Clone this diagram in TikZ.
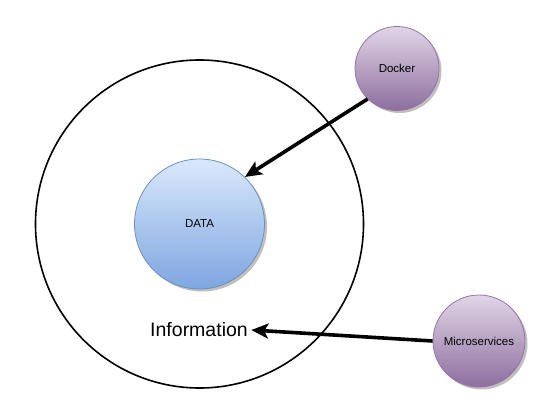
\documentclass[tikz,border=0pt]{standalone}
\usepackage{fontspec}
\setmainfont{Liberation Sans}
\usetikzlibrary{arrows.meta,shadows,positioning}
\definecolor{purpletop}{HTML}{E1D5E7}
\definecolor{purplebottom}{HTML}{8D6E9E}
\definecolor{purpleline}{HTML}{9673A6}
\definecolor{bluetop}{HTML}{DAE8FC}
\definecolor{bluebottom}{HTML}{7EA6E0}
\definecolor{blueline}{HTML}{6C8EBF}

\begin{document}
\begin{tikzpicture}[x=1pt, y=-1pt]
		\tikzstyle{every node}=[font=\fontsize{11.5}{13}\selectfont]
		\tikzstyle{ball}=[circle, inner sep=0pt, line width=0.8pt,
			drop shadow={shadow xshift=2.5pt, shadow yshift=-2.5pt, fill=black, opacity=0.25}]
		\tikzstyle{purpleball}=[ball, draw=purpleline, top color=purpletop, bottom color=purplebottom]
		\tikzstyle{blueball}=[ball, draw=blueline, top color=bluetop, bottom color=bluebottom]
		\tikzstyle{link}=[line width=3.6pt, -{Stealth[length=17pt, width=15pt, inset=4pt]}]
		\useasboundingbox (0,0) rectangle (547,404);
		\node [circle, draw, line width=1.6pt, minimum size=328pt, inner sep=0pt] (ring) at (199.5,224) {};
		\node [blueball, minimum size=130pt] (data) at (199.5,224) {DATA};
		\node [font=\fontsize{19.5}{22}\selectfont] (info) at (199,330) {Information};
		\node [purpleball, minimum size=84pt] (docker) at (397,68.5) {Docker};
		\node [purpleball, minimum size=92pt] (micro) at (479,341) {Microservices};
		\draw [link] (docker.226) -- (data.46);
		\draw [link] (micro.west) -- (info.east);
\end{tikzpicture}
\end{document}
